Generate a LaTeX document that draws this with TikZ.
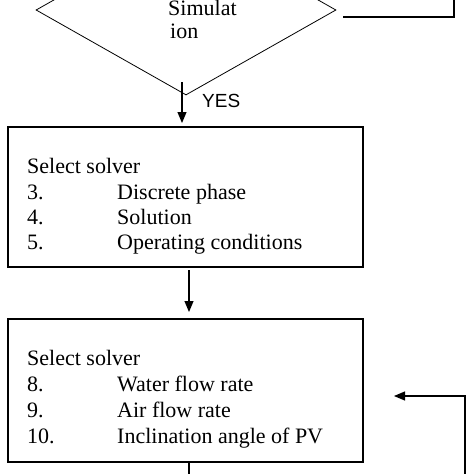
\documentclass[tikz,border=0pt]{standalone}
\usepackage{fontspec}
\setmainfont{Liberation Serif}
\newfontfamily\yesfont{Liberation Sans}
\usetikzlibrary{shapes.geometric,arrows.meta}
\begin{document}
\begin{tikzpicture}[x=1pt,y=-1pt,
  boxstyle/.style={draw, line width=1.1pt, rectangle, inner sep=0pt},
  decstyle/.style={draw, line width=0.8pt, diamond, inner sep=0pt, minimum width=300pt, minimum height=170pt},
  txt/.style={anchor=base west, inner sep=0pt, font=\fontsize{22}{25}\selectfont},
  arr/.style={line width=1.1pt, -{Triangle[length=11pt,width=9pt]}},
  ln/.style={line width=1.1pt}]
\useasboundingbox (0,0) rectangle (474,474);
\clip (0,0) rectangle (474,474);
% decision
\node[decstyle] (dec) at (186,10) {};
\node[txt] (sim1) at (168,15) {Simulat};
\node[txt] (sim2) at (170,38) {ion};
% loop from decision right
\coordinate (r1) at (343,17);
\coordinate (r2) at (454,17);
\coordinate (r3) at (454,-10);
\draw[ln] (r1) -- (r2) -- (r3);
% YES arrow
\coordinate (y1) at (182,82);
\coordinate (y2) at (182,123);
\draw[arr] (y1) -- (y2);
\node[anchor=base west, inner sep=0pt, font=\yesfont\fontsize{19}{22}\selectfont] (yes) at (202,107) {YES};
% box 1
\node[boxstyle, minimum width=355pt, minimum height=140pt] (box1) at (185.5,197) {};
\node[txt] (b1t) at (27,173) {Select solver};
\node[txt] (b1n3) at (27,199) {3.};
\node[txt] (b1i3) at (117,199) {Discrete phase};
\node[txt] (b1n4) at (27,224) {4.};
\node[txt] (b1i4) at (117,224) {Solution};
\node[txt] (b1n5) at (27,249) {5.};
\node[txt] (b1i5) at (117,249) {Operating conditions};
% arrow box1 -> box2
\coordinate (m1) at (189,270);
\coordinate (m2) at (189,312);
\draw[arr] (m1) -- (m2);
% box 2
\node[boxstyle, minimum width=355pt, minimum height=143pt] (box2) at (185.5,390.5) {};
\node[txt] (b2t) at (27,365) {Select solver};
\node[txt] (b2n8) at (27,391) {8.};
\node[txt] (b2i8) at (117,391) {Water flow rate};
\node[txt] (b2n9) at (27,417) {9.};
\node[txt] (b2i9) at (117,417) {Air flow rate};
\node[txt] (b2n10) at (27,443) {10.};
\node[txt] (b2i10) at (117,443) {Inclination angle of PV};
% bottom line
\coordinate (d1) at (189,462);
\coordinate (d2) at (189,480);
\draw[ln] (d1) -- (d2);
% right loop arrow
\coordinate (l1) at (465,480);
\coordinate (l2) at (465,396);
\coordinate (l3) at (394,396);
\draw[arr] (l1) -- (l2) -- (l3);
\end{tikzpicture}
\end{document}
